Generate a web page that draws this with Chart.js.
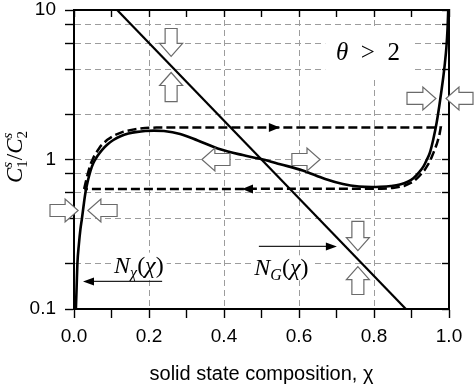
<!DOCTYPE html>
<html>
<head>
<meta charset="utf-8">
<script src="https://cdn.jsdelivr.net/npm/chart.js@4.4.1/dist/chart.umd.min.js"></script>
<style>
  body { margin: 0; background: #fff; }
</style>
</head>
<body>
<canvas id="chart" width="474" height="386"></canvas>
<script>
// axis ticks
const xTicks = [0, 0.1, 0.2, 0.3, 0.4, 0.5, 0.6, 0.7, 0.8, 0.9, 1.0];
const xTickLabels = ['0.0', '', '0.2', '', '0.4', '', '0.6', '', '0.8', '', '1.0'];
const xGrid = [0.2, 0.4, 0.6, 0.8];
const yTicks = [0.1, 0.2, 0.4, 0.6, 0.8, 1, 2, 4, 6, 8, 10];
const yTickLabels = ['0.1', '', '', '', '', '1', '', '', '', '', '10'];
const yGrid = [0.2, 0.4, 0.6, 0.8, 1, 2, 4, 6, 8];

// N_chi(chi) curve (solid)
const solidX = [0.005, 0.007, 0.009, 0.013, 0.017, 0.021, 0.026, 0.031, 0.037, 0.044, 0.052, 0.062, 0.075, 0.089, 0.105, 0.124, 0.145, 0.169, 0.19, 0.213, 0.24, 0.283, 0.33, 0.39, 0.45, 0.504, 0.55, 0.61, 0.67, 0.717, 0.76, 0.795, 0.816, 0.845, 0.869, 0.89, 0.905, 0.92, 0.932, 0.941, 0.949, 0.958, 0.967, 0.974, 0.98, 0.985, 0.989, 0.993, 0.996, 0.998];
const solidY = [0.1, 0.14, 0.2, 0.27, 0.34, 0.4, 0.5, 0.61, 0.72, 0.84, 0.95, 1.05, 1.16, 1.26, 1.35, 1.43, 1.49, 1.53, 1.55, 1.56, 1.55, 1.48, 1.34, 1.17, 1.07, 1.0, 0.93, 0.845, 0.74, 0.685, 0.66, 0.655, 0.657, 0.665, 0.68, 0.71, 0.75, 0.82, 0.9, 1.0, 1.11, 1.36, 1.76, 2.27, 2.9, 3.6, 4.4, 5.6, 7.4, 10];

// N_G(chi) line (straight on log scale)
const ngX = [0.115, 0.885];
const ngY = [10, 0.1];

// hysteresis loop (dashed)
const loopX = [0.027, 0.031, 0.036, 0.044, 0.055, 0.071, 0.088, 0.107, 0.13, 0.16, 0.19, 0.22, 0.978, 0.974, 0.967, 0.958, 0.949, 0.935, 0.92, 0.905, 0.88, 0.85, 0.82, 0.027];
const loopY = [0.635, 0.7, 0.79, 0.93, 1.07, 1.23, 1.35, 1.45, 1.53, 1.59, 1.625, 1.635, 1.635, 1.44, 1.26, 1.1, 0.97, 0.85, 0.77, 0.71, 0.665, 0.645, 0.637, 0.635];

// annotation placement (data coordinates): [tipX, tipY, tailX, tailY]
const blockArrows = [
  [0.259, 4.89, 0.259, 7.52],
  [0.259, 3.82, 0.259, 2.44],
  [0.757, 0.246, 0.757, 0.385],
  [0.757, 0.192, 0.757, 0.125],
  [0.341, 1.0, 0.416, 1.0],
  [0.656, 1.0, 0.581, 1.0],
  [0.965, 2.56, 0.888, 2.56],
  [0.992, 2.56, 1.064, 2.56],
  [0.011, 0.456, -0.064, 0.456],
  [0.037, 0.456, 0.115, 0.456]
];
const pointerArrows = [
  [0.235, 0.153, 0.024, 0.153],
  [0.493, 0.262, 0.701, 0.262]
];
const loopHeads = [
  [0.549, 1.635, 1],
  [0.448, 0.635, -1]
];

const serif = '"Liberation Serif", "DejaVu Serif", serif';
const sans = '"Liberation Sans", Arial, sans-serif';

function near(v, list) {
  return list.some(g => Math.abs(g - v) < 1e-6);
}

function pts(xs, ys) {
  return xs.map((v, i) => ({x: v, y: ys[i]}));
}

// draws runs of text (for sub/superscripts); stack = start at previous run's x
function drawRuns(ctx, runs, cx, baseY) {
  let prevStart = 0, end = 0;
  const pos = [];
  runs.forEach(r => {
    ctx.font = r.f;
    const w = ctx.measureText(r.t).width;
    const start = r.stack ? prevStart : end;
    pos.push(start);
    prevStart = start;
    end = Math.max(end, start + w);
  });
  const x0 = cx - end / 2;
  ctx.textAlign = 'left';
  ctx.textBaseline = 'alphabetic';
  ctx.fillStyle = '#000';
  runs.forEach((r, i) => {
    ctx.font = r.f;
    ctx.fillText(r.t, x0 + pos[i], baseY + (r.dy || 0));
  });
  return {x0: x0, width: end};
}

function blockArrow(ctx, tx, ty, bx, by) {
  const dx = tx - bx, dy = ty - by;
  const L = Math.hypot(dx, dy);
  const ux = dx / L, uy = dy / L;
  const nx = -uy, ny = ux;
  const head = Math.min(13, L * 0.48), hw = 11.5, sw = 6;
  const hx = tx - ux * head, hy = ty - uy * head;
  const p = [
    [bx + nx * sw, by + ny * sw],
    [hx + nx * sw, hy + ny * sw],
    [hx + nx * hw, hy + ny * hw],
    [tx, ty],
    [hx - nx * hw, hy - ny * hw],
    [hx - nx * sw, hy - ny * sw],
    [bx - nx * sw, by - ny * sw]
  ];
  ctx.beginPath();
  p.forEach((q, i) => i ? ctx.lineTo(q[0], q[1]) : ctx.moveTo(q[0], q[1]));
  ctx.closePath();
  ctx.fillStyle = '#fff';
  ctx.fill();
  ctx.strokeStyle = '#6a6a6a';
  ctx.lineWidth = 1.2;
  ctx.stroke();
}

function head(ctx, x, y, dir, len, half) {
  ctx.beginPath();
  ctx.moveTo(x, y);
  ctx.lineTo(x - dir * len, y - half);
  ctx.lineTo(x - dir * len, y + half);
  ctx.closePath();
  ctx.fillStyle = '#000';
  ctx.fill();
}

const annotations = {
  id: 'annotations',
  afterDatasetsDraw(chart) {
    const ctx = chart.ctx;
    const sx = chart.scales.x, sy = chart.scales.y;
    const px = v => sx.getPixelForValue(v);
    const py = v => sy.getPixelForValue(v);
    ctx.save();

    // white patch behind theta label
    ctx.fillStyle = '#fff';
    ctx.fillRect(px(0.67), py(7.6), px(0.9) - px(0.67), py(3.6) - py(7.6));

    // arrowheads on the dashed loop
    loopHeads.forEach(h => head(ctx, px(h[0]), py(h[1]), h[2], 11, 4.5));

    // block arrows
    blockArrows.forEach(a => blockArrow(ctx, px(a[0]), py(a[1]), px(a[2]), py(a[3])));

    // labels with white background
    const labels = [
      {x: 0.173, y: 0.198, runs: [
        {t: 'N', f: 'italic 24px ' + serif},
        {t: 'χ', f: 'italic 16px ' + serif, dy: 5},
        {t: '(', f: '24px ' + serif},
        {t: 'χ', f: 'italic 24px ' + serif},
        {t: ')', f: '24px ' + serif}
      ]},
      {x: 0.553, y: 0.19, runs: [
        {t: 'N', f: 'italic 24px ' + serif},
        {t: 'G', f: 'italic 16px ' + serif, dy: 5},
        {t: '(', f: '24px ' + serif},
        {t: 'χ', f: 'italic 24px ' + serif},
        {t: ')', f: '24px ' + serif}
      ]}
    ];
    labels.forEach(l => {
      const cx = px(l.x), cy = py(l.y);
      ctx.globalAlpha = 0;
      const m = drawRuns(ctx, l.runs, cx, cy + 8);
      ctx.globalAlpha = 1;
      ctx.fillStyle = '#fff';
      ctx.fillRect(m.x0 - 3, cy - 12, m.width + 6, 25);
      drawRuns(ctx, l.runs, cx, cy + 8);
    });

    // pointer arrows
    ctx.strokeStyle = '#222';
    ctx.lineWidth = 1.3;
    pointerArrows.forEach(a => {
      const x1 = px(a[0]), x2 = px(a[2]), y1 = py(a[1]);
      const dir = x2 > x1 ? 1 : -1;
      ctx.beginPath();
      ctx.moveTo(x1, y1);
      ctx.lineTo(x2 - dir * 8, y1);
      ctx.stroke();
      head(ctx, x2, y1, dir, 11, 4);
    });

    // theta > 2
    drawRuns(ctx, [
      {t: 'θ', f: 'italic 25px ' + serif},
      {t: '\u2002>\u2002', f: '25px ' + serif},
      {t: '2', f: '25px ' + serif}
    ], px(0.784), py(5.28) + 9);

    // y axis title C1s / C2s, rotated
    ctx.translate(14, 157);
    ctx.rotate(-Math.PI / 2);
    drawRuns(ctx, [
      {t: 'C', f: 'italic 23px ' + serif},
      {t: '1', f: '15px ' + serif, dy: 5},
      {t: 's', f: 'italic 15px ' + serif, dy: -10, stack: true},
      {t: '/', f: '23px ' + serif},
      {t: 'C', f: 'italic 23px ' + serif},
      {t: '2', f: '15px ' + serif, dy: 5},
      {t: 's', f: 'italic 15px ' + serif, dy: -10, stack: true}
    ], 0, 8);

    ctx.restore();
  }
};

const gridGray = '#9c9c9c';

new Chart(document.getElementById('chart').getContext('2d'), {
  type: 'scatter',
  data: {
    datasets: [
      {
        label: 'loop',
        data: pts(loopX, loopY),
        showLine: true,
        borderColor: '#000',
        borderWidth: 2.5,
        borderDash: [9, 4],
        pointRadius: 0,
        tension: 0,
        xAxisID: 'x',
        yAxisID: 'y'
      },
      {
        label: 'N_chi',
        data: pts(solidX, solidY),
        showLine: true,
        borderColor: '#000',
        borderWidth: 2.6,
        pointRadius: 0,
        cubicInterpolationMode: 'monotone',
        xAxisID: 'x',
        yAxisID: 'y'
      },
      {
        label: 'N_G',
        data: pts(ngX, ngY),
        showLine: true,
        borderColor: '#000',
        borderWidth: 2.2,
        pointRadius: 0,
        xAxisID: 'x',
        yAxisID: 'y'
      }
    ]
  },
  options: {
    responsive: false,
    animation: false,
    devicePixelRatio: 1,
    layout: { padding: { left: 0, right: 25, top: 10, bottom: 0 } },
    plugins: {
      legend: { display: false },
      tooltip: { enabled: false }
    },
    scales: {
      x: {
        type: 'linear',
        position: 'bottom',
        min: 0,
        max: 1,
        afterBuildTicks: s => { s.ticks = xTicks.map(v => ({value: v})); },
        afterFit: s => { s.height = 77; },
        ticks: {
          autoSkip: false,
          maxRotation: 0,
          padding: 7,
          color: '#000',
          font: { family: sans, size: 19 },
          callback: (v, i) => xTickLabels[i]
        },
        grid: {
          color: c => near(c.tick.value, xGrid) ? gridGray : 'rgba(0,0,0,0)',
          lineWidth: 1,
          tickColor: '#000',
          tickLength: 9,
          tickWidth: 1.4
        },
        border: { color: '#000', width: 2, dash: [6, 4] },
        title: {
          display: true,
          text: 'solid state composition, χ',
          color: '#000',
          font: { family: sans, size: 20 },
          padding: { top: 0, bottom: 0 }
        }
      },
      x2: {
        type: 'linear',
        position: 'top',
        min: 0,
        max: 1,
        afterBuildTicks: s => { s.ticks = xTicks.map(v => ({value: v})); },
        afterFit: s => { s.height = 0; },
        ticks: { display: false, autoSkip: false },
        grid: {
          drawOnChartArea: false,
          tickColor: '#000',
          tickLength: -7,
          tickWidth: 1.4
        },
        border: { color: '#000', width: 2 }
      },
      y: {
        type: 'logarithmic',
        position: 'left',
        min: 0.1,
        max: 10,
        afterBuildTicks: s => { s.ticks = yTicks.map(v => ({value: v})); },
        afterFit: s => { s.width = 74; },
        ticks: {
          autoSkip: false,
          padding: 9,
          color: '#000',
          font: { family: sans, size: 19, lineHeight: 0.05 },
          callback: (v, i) => yTickLabels[i]
        },
        grid: {
          color: c => near(c.tick.value, yGrid) ? gridGray : 'rgba(0,0,0,0)',
          lineWidth: 1,
          tickColor: '#000',
          tickLength: 9,
          tickWidth: 1.4
        },
        border: { color: '#000', width: 2, dash: [6, 4] }
      },
      y2: {
        type: 'logarithmic',
        position: 'right',
        min: 0.1,
        max: 10,
        afterBuildTicks: s => { s.ticks = yTicks.map(v => ({value: v})); },
        afterFit: s => { s.width = 0; },
        ticks: { display: false, autoSkip: false },
        grid: {
          drawOnChartArea: false,
          tickColor: '#000',
          tickLength: -7,
          tickWidth: 1.4
        },
        border: { color: '#000', width: 2 }
      }
    }
  },
  plugins: [annotations]
});
</script>
</body>
</html>
